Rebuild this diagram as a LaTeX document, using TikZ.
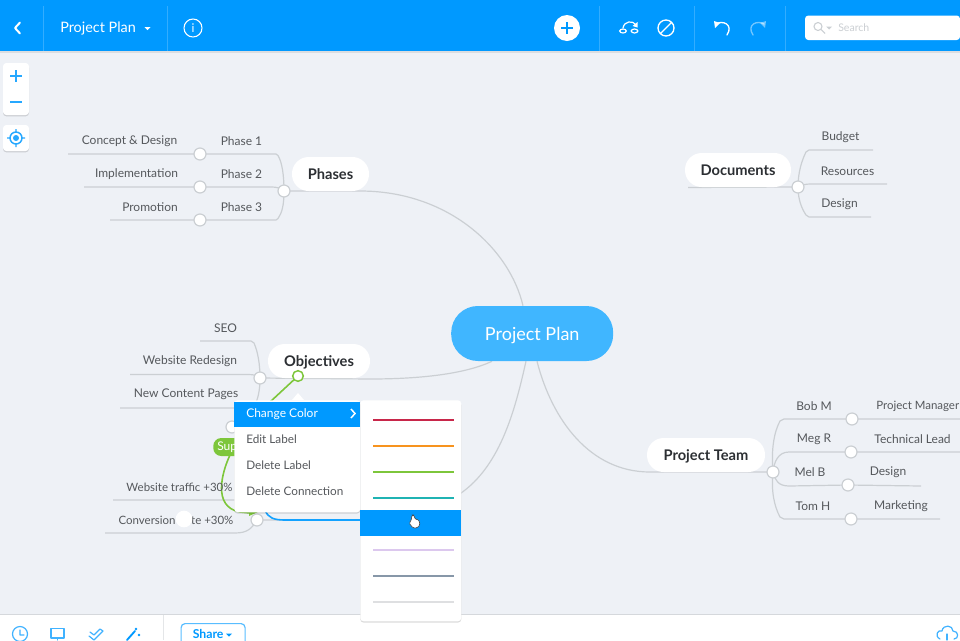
\documentclass[tikz,border=0pt]{standalone}
\usepackage{fontspec}
\setmainfont{Lato}
\usetikzlibrary{positioning}
\usetikzlibrary{shadows}
\usetikzlibrary{backgrounds}

\definecolor{barblue}{HTML}{0099FF}
\definecolor{rootblue}{HTML}{40B6FF}
\definecolor{canvas}{HTML}{EEF1F6}
\definecolor{linegrey}{HTML}{CBCFD3}
\definecolor{inkgrey}{HTML}{55585C}
\definecolor{inkdark}{HTML}{2C2F33}
\definecolor{leafgreen}{HTML}{7DC63B}

\tikzset{
    topic/.style = {fill=white, rounded corners=12.5pt, minimum height=25.5pt, inner sep=0pt, text height=9pt, text depth=1.5pt, text=inkdark, font=\fontsize{11}{12}\selectfont\bfseries},
    leaf/.style = {text=inkgrey, inner sep=0pt, yshift=-0.75pt, font=\fontsize{9}{11}\selectfont},
    tightleaf/.style = {leaf, font=\fontsize{8.6}{11}\selectfont},
    dot/.style = {circle, fill=white, draw=linegrey, line width=0.9pt, minimum size=9pt, inner sep=0pt},
    link/.style = {draw=linegrey, line width=0.9pt},
    panel/.style = {fill=white, rounded corners=2.5pt, copy shadow={shadow xshift=0pt, shadow yshift=-1pt, fill=black, opacity=0.14, draw=none}},
    menuitem/.style = {text=inkgrey, anchor=west, inner sep=0pt, yshift=-0.5pt, font=\fontsize{8.8}{11}\selectfont},
    swatch/.style = {minimum width=60.75pt, minimum height=2.2pt, inner sep=0pt},
    barsep/.style = {draw=white, opacity=0.2, line width=0.5pt},
    baricon/.style = {draw=white, line width=1pt, line cap=round, line join=round},
    lowicon/.style = {draw=barblue!75, line width=0.9pt, line cap=round, line join=round},
}

\begin{document}
\begin{tikzpicture}[x=0.75pt, y=-0.75pt]
    \useasboundingbox (0,0) rectangle (960,640);
    \begin{pgfonlayer}{background}
        \fill[canvas] (0,0) rectangle (960,640);
    \end{pgfonlayer}

    % nodes %
    \node[fill=rootblue, rounded corners=20pt, minimum width=121.5pt, minimum height=41.25pt, inner sep=0pt, text height=11pt, text depth=1.2pt, text=white, font=\fontsize{13.5}{16}\selectfont] (root) at (532.2,333.5) {Project Plan};
    \node[topic, minimum width=57.75pt] (phases) at (330.5,174) {Phases};
    \node[topic, minimum width=79.5pt] (documents) at (738,170) {Documents};
    \node[topic, minimum width=76.5pt] (objectives) at (319,361) {Objectives};
    \node[topic, minimum width=88.5pt] (team) at (706,455) {Project Team};

    \node[dot] (phasesdot) at (284,191) {};
    \node[dot] (phaseonedot) at (200,154) {};
    \node[dot] (phasetwodot) at (200,187) {};
    \node[dot] (phasethreedot) at (200,220) {};
    \node[dot] (documentsdot) at (798,187) {};
    \node[dot] (objectivesdot) at (260,378) {};
    \node[dot] (supportdot) at (232,427) {};
    \node[dot] (resultsdot) at (257,520) {};
    \node[dot] (teamdot) at (773,472) {};
    \node[dot] (bobdot) at (852,419) {};
    \node[dot] (megdot) at (851,452) {};
    \node[dot] (meldot) at (848,485) {};
    \node[dot] (tomdot) at (851,519) {};

    \node[leaf] (concept) at (129.5,140) {Concept \& Design};
    \node[leaf] (phaseone) at (241.5,140) {Phase 1};
    \node[leaf] (implementation) at (136.5,173) {Implementation};
    \node[leaf] (phasetwo) at (241.5,173) {Phase 2};
    \node[leaf] (promotion) at (150,206.5) {Promotion};
    \node[leaf] (phasethree) at (241.5,206.5) {Phase 3};
    \node[leaf] (budget) at (840.5,136) {Budget};
    \node[leaf] (resources) at (847.5,170) {Resources};
    \node[leaf] (design) at (839.5,203) {Design};
    \node[leaf] (seo) at (225.5,327) {SEO};
    \node[leaf] (redesign) at (190,360.5) {Website Redesign};
    \node[leaf] (pages) at (186,393.5) {New Content Pages};
    \node[tightleaf] (traffic) at (179.5,486) {Website traffic +30\%};
    \node[tightleaf] (conversion) at (176,519.5) {Conversion Rate +30\%};
    \node[fill=white, circle, minimum size=12.5pt, inner sep=0pt] (covered) at (184,519) {};
    \node[leaf] (bob) at (814,405) {Bob M};
    \node[tightleaf, anchor=west] (manager) at (876,405) {Project Manager};
    \node[leaf] (meg) at (814,438) {Meg R};
    \node[leaf] (lead) at (912.5,438) {Technical Lead};
    \node[leaf] (mel) at (810,471.5) {Mel B};
    \node[leaf] (teamdesign) at (888,471.5) {Design};
    \node[leaf] (tom) at (813,505) {Tom H};
    \node[leaf] (marketing) at (901,505) {Marketing};

    % free ends %
    \coordinate (conceptend) at (68,154);
    \coordinate (implementationend) at (84,187);
    \coordinate (promotionend) at (110,220);
    \coordinate (documentsend) at (688,187.5);
    \coordinate (budgetend) at (873,150);
    \coordinate (resourcesend) at (887,184);
    \coordinate (designend) at (871,217);
    \coordinate (seoend) at (200,341);
    \coordinate (redesignend) at (130,374.5);
    \coordinate (pagesend) at (120,408);
    \coordinate (trafficend) at (113,500);
    \coordinate (conversionend) at (105,533);
    \coordinate (bobend) at (960,419);
    \coordinate (megend) at (960,452);
    \coordinate (melend) at (921,486);
    \coordinate (tomend) at (940,519);

    % edges %
    \begin{pgfonlayer}{background}
        \draw[link] (root.north -| 523,0) .. controls (510,250) and (450,191) .. (360,191) -- (phasesdot.center);
        \draw[link] (phasesdot.center) .. controls (284,175) and (282,162) .. (278,155.5) -- (276,154) -- (phaseonedot.center) -- (conceptend);
        \draw[link] (phasesdot.center) .. controls (280,188) and (278,187) .. (270,187) -- (phasetwodot.center) -- (implementationend);
        \draw[link] (phasesdot.center) .. controls (284,205) and (282,213) .. (278,218.5) -- (276,220) -- (phasethreedot.center) -- (promotionend);
        \draw[link] (documentsdot.center) -- (documentsend);
        \draw[link] (documentsdot.center) .. controls (798,172) and (802,160) .. (806,152) -- (809,150) -- (budgetend);
        \draw[link] (documentsdot.center) .. controls (802,185) and (804,184) .. (812,184) -- (resourcesend);
        \draw[link] (documentsdot.center) .. controls (798,200) and (802,209) .. (806,215) -- (809,217) -- (designend);
        \draw[link] (objectivesdot.center) -- (370,379) .. controls (420,379) and (465,374) .. (root.south -| 492,0);
        \draw[link] (objectivesdot.center) .. controls (260,365) and (258,352) .. (254,343) -- (251,341) -- (seoend);
        \draw[link] (objectivesdot.center) .. controls (257,375) and (255,374.5) .. (245,374.5) -- (redesignend);
        \draw[link] (objectivesdot.center) .. controls (260,390) and (258,400) .. (254,406) -- (251,408) -- (pagesend);
        \draw[link] (resultsdot.center) .. controls (252,507) and (250,500) .. (232,500) -- (trafficend);
        \draw[link] (resultsdot.center) .. controls (252,528) and (248,533) .. (235,533) -- (conversionend);
        \draw[link] (root.south -| 526,0) .. controls (515,410) and (500,470) .. (455,497) .. controls (430,512) and (400,520) .. (370,520) -- (resultsdot.center);
        \draw[link] (root.south -| 537,0) .. controls (552,420) and (590,472) .. (650,472) -- (teamdot.center);
        \draw[link] (teamdot.center) .. controls (771,450) and (774,432) .. (780,421) -- (784,419) -- (bobdot.center) -- (bobend);
        \draw[link] (teamdot.center) .. controls (774,462) and (778,452) .. (789,452) -- (megdot.center) -- (megend);
        \draw[link] (teamdot.center) .. controls (775,480) and (778,486) .. (789,486) -- (meldot.center) -- (melend);
        \draw[link] (teamdot.center) .. controls (771,490) and (774,506) .. (780,517) -- (784,519) -- (tomdot.center) -- (tomend);
        % labelled connection %
        \draw[leafgreen, line width=1.2pt] (298,376) -- (270,402);
        \draw[leafgreen, line width=1.2pt] (230,455) .. controls (222,472) and (212,507) .. (240,512) -- (250,513);
        \fill[leafgreen] (249,510) -- (258,512) -- (249,516) -- cycle;
        \draw[barblue!70!rootblue, line width=1.2pt] (265,510) .. controls (268,518) and (274,520) .. (285,520) -- (362,520);
    \end{pgfonlayer}

    \node[fill=leafgreen, rounded corners=6pt, minimum width=24pt, minimum height=13.5pt, inner sep=0pt, text=white, anchor=west, text width=24pt, font=\fontsize{9}{11}\selectfont, align=left] (support) at (213,447) {\ Sup};
    \node[circle, fill=white, draw=leafgreen, line width=1.1pt, minimum size=8pt, inner sep=0pt] (greendot) at (298,376) {};

    % top bar %
    \fill[barblue] (0,0) rectangle (960,51);
    \fill[linegrey!70] (0,51) rectangle (960,52.5);
    \foreach \sepx in {43,167,599,694,785}
        \draw[barsep] (\sepx,6) -- (\sepx,51);
    \draw[baricon, line width=1.5pt] (20,22.5) -- (15,28) -- (20,33.5);
    \node[text=white, anchor=west, inner sep=0pt, yshift=-0.5pt, font=\fontsize{10.8}{13}\selectfont] (title) at (60,28) {Project Plan};
    \fill[white] (144.5,27) -- (150.5,27) -- (147.5,30) -- cycle;
    \node[circle, draw=white, line width=0.8pt, minimum size=13.5pt, inner sep=0pt, text=white, font=\fontsize{9}{9}\selectfont] (info) at (193,28) {i};
    \node[circle, fill=white, minimum size=19.5pt, inner sep=0pt] (addbutton) at (567,28) {};
    \draw[barblue, line width=1.2pt] (561,28) -- (573,28) (567,22) -- (567,34);
    % connection icon %
    \draw[baricon, line width=0.9pt] (623,28) .. controls (624,21) and (633,20) .. (636,25);
    \fill[white] (637.5,22) -- (637.5,27.5) -- (632.5,26) -- cycle;
    \draw[white, line width=0.9pt] (623,31) ellipse[x radius=3.3, y radius=2] (634.5,31) ellipse[x radius=3.3, y radius=2];
    \draw[baricon] (666,28) circle[radius=8] (660.5,33.5) -- (671.5,22.5);
    \draw[baricon] (716,24) .. controls (722,20) and (734,24) .. (727,35);
    \fill[white] (714,21) -- (720,23) -- (715,28) -- cycle;
    \draw[baricon, opacity=0.45] (764,24) .. controls (758,20) and (746,24) .. (753,35);
    \fill[white, opacity=0.45] (766,21) -- (760,23) -- (765,28) -- cycle;
    \fill[white, rounded corners=2.5pt] (805,15.5) -- (960,15.5) -- (960,40) -- (805,40) -- cycle;
    \draw[linegrey, line width=0.8pt] (818,26.5) circle[radius=4] (821,29.5) -- (825,33.5);
    \fill[linegrey] (826,26.5) -- (832,26.5) -- (829,29.5) -- cycle;
    \node[text=linegrey, anchor=west, inner sep=0pt, font=\fontsize{7.9}{10}\selectfont] (search) at (838,27.5) {Search};

    % zoom panel %
    \fill[panel] (3,63) rectangle (29,115);
    \fill[panel] (3,125) rectangle (29,151);
    \draw[barblue!85, line width=1.1pt] (10,76) -- (22,76) (16,70) -- (16,82) (10,102) -- (22,102);
    \draw[barblue!85, line width=1.1pt] (16,138) circle[radius=6] (16,129) -- (16,132) (16,144) -- (16,147) (7,138) -- (10,138) (22,138) -- (25,138);
    \fill[barblue!85] (16,138) circle[radius=3];

    % bottom bar %
    \fill[white] (0,615) rectangle (960,640);
    \fill[linegrey!80] (0,614) rectangle (960,615);
    \draw[barsep, draw=linegrey, opacity=0.5] (163,615) -- (163,640);
    \draw[lowicon] (20,634) circle[radius=7.5] (20,630) -- (20,635) -- (24,635);
    \draw[lowicon] (51,628.5) rectangle (64,638) (57.5,638) -- (57.5,640);
    \draw[lowicon] (89,636) -- (94,640) (94,640) -- (103,631) -- (100,629) -- (94,635) -- (90,632);
    \draw[barblue, line width=1.4pt, line cap=round] (127,640) -- (135,631);
    \fill[barblue] (136,629) circle[radius=1.3] (139,635) circle[radius=1.3];
    \node[draw=barblue!65, line width=0.9pt, rounded corners=3pt, minimum width=48pt, minimum height=18pt, inner sep=0pt, anchor=north west] (sharebox) at (180.5,623) {};
    \node[text=barblue, anchor=west, inner sep=0pt, font=\fontsize{9.2}{10}\selectfont\bfseries] (share) at (192.5,634) {Share};
    \fill[barblue] (226,633.5) -- (232,633.5) -- (229,636.5) -- cycle;
    \draw[lowicon] (940,639) .. controls (934,636) and (938,629) .. (942,631) .. controls (943,624) and (953,625) .. (953,631) .. controls (959,631) and (959,639) .. (954,639);
    \draw[lowicon] (947,640) -- (947,634);

    % menus %
    \fill[white] (292,400) -- (298,393) -- (304,400) -- cycle;
    \node[panel, minimum width=94.5pt, minimum height=84pt, inner sep=0pt, anchor=north west] (menu) at (234,400) {};
    \fill[barblue] (234,401.5) rectangle (360,427);
    \node[menuitem, text=white, font=\fontsize{9}{11}\selectfont] (changecolor) at (246,413.5) {Change Color};
    \draw[white, line width=1.1pt] (351,409) -- (355,413.5) -- (351,418);
    \node[menuitem] (editlabel) at (246,439) {Edit Label};
    \node[menuitem] (deletelabel) at (246,465) {Delete Label};
    \node[menuitem] (deleteconnection) at (246,491) {Delete Connection};

    \node[panel, minimum width=75.75pt, minimum height=165.75pt, inner sep=0pt, anchor=north west] (colormenu) at (360,400) {};
    \node[fill=barblue, minimum width=75.75pt, minimum height=19.5pt, inner sep=0pt, anchor=north west] (hoverrow) at (360,510) {};
    \foreach \rowname/\rowy/\rowcolor in {red/420/C8274A, orange/446/F7931E, green/472/7DC63B, teal/498/1FB3B3, lilac/550/DCC8EE, slate/576/8797A8, pale/602/DEDFE1} {
        \definecolor{rowtint}{HTML}{\rowcolor}
        \node[swatch, fill=rowtint, anchor=west] (\rowname) at (372.5,\rowy) {};
    }

    % hand cursor %
    \fill[white, draw=black!70, line width=0.5pt, rounded corners=1pt] (412,515) -- (414,515) -- (415,519) -- (419,520) -- (420,525) -- (417,528) -- (413,528) -- (409,523) -- (411,521) -- cycle;
\end{tikzpicture}
\end{document}
